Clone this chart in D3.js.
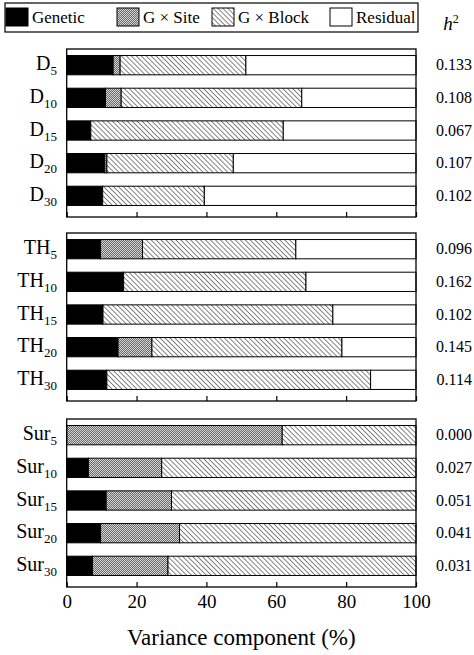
<html>
<head>
<meta charset="utf-8">
<script src="https://d3js.org/d3.v7.min.js"></script>
<style>body{margin:0;background:#fff;} svg text{font-family:"Liberation Serif","DejaVu Serif",serif;}</style>
</head>
<body>
<svg width="474" height="655"></svg>
<script>
var groups = ["D", "TH", "Sur"];
var ages = ["5", "10", "15", "20", "30"];
var keys = ["Genetic", "G \u00d7 Site", "G \u00d7 Block", "Residual"];
// percent for genetic, GxSite, GxBlock (residual = remainder)
var genetic = [13.3, 11.1, 6.9, 10.9, 10.3, 9.7, 16.3, 10.4, 14.7, 11.5, 0, 6.2, 11.3, 9.7, 7.4];
var gSite   = [2.0, 4.5, 0, 0.6, 0, 12.0, 0, 0, 9.7, 0, 61.7, 21.0, 18.7, 22.6, 21.6];
var gBlock  = [36.0, 51.7, 55.1, 36.2, 29.1, 43.9, 52.2, 65.8, 54.4, 75.5, 38.3, 72.8, 70.0, 67.7, 71.0];
var h2 = ["0.133", "0.108", "0.067", "0.107", "0.102", "0.096", "0.162", "0.102", "0.145", "0.114", "0.000", "0.027", "0.051", "0.041", "0.031"];
var xTicks = [0, 20, 40, 60, 80, 100];

var svg = d3.select("svg");
var x = d3.scaleLinear().domain([0, 100]).range([66.7, 416]);

var defs = svg.append("defs");
var dots = defs.append("pattern").attr("id", "site").attr("patternUnits", "userSpaceOnUse")
  .attr("width", 2).attr("height", 2);
dots.append("rect").attr("width", 2).attr("height", 2).attr("fill", "#d4d4d4");
dots.append("rect").attr("width", 1).attr("height", 1).attr("fill", "#6a6a6a");
dots.append("rect").attr("x", 1).attr("y", 1).attr("width", 1).attr("height", 1).attr("fill", "#6a6a6a");
var hatch = defs.append("pattern").attr("id", "block").attr("patternUnits", "userSpaceOnUse")
  .attr("width", 3.5).attr("height", 3.5).attr("patternTransform", "rotate(-45)");
hatch.append("rect").attr("width", 3.5).attr("height", 3.5).attr("fill", "#fff");
hatch.append("line").attr("x1", 0).attr("y1", 0).attr("x2", 0).attr("y2", 3.5)
  .attr("stroke", "#222").attr("stroke-width", 1.1);
var fills = ["#000", "url(#site)", "url(#block)", "#fff"];

// legend
svg.append("rect").attr("x", 5).attr("y", 3).attr("width", 413).attr("height", 29)
  .attr("fill", "none").attr("stroke", "#000").attr("stroke-width", 1.2);
var legX = [6, 117, 212, 330];
var leg = svg.selectAll(".leg").data(keys).enter().append("g")
  .attr("transform", (d, i) => `translate(${legX[i]},8)`);
leg.append("rect").attr("width", 22).attr("height", 18).attr("fill", (d, i) => fills[i])
  .attr("stroke", "#000").attr("stroke-width", 1);
leg.append("text").attr("x", 26).attr("y", 15).text(d => d)
  .style("font-size", "17px");
svg.append("text").attr("x", 451).attr("y", 30).attr("text-anchor", "middle")
  .style("font-size", "19px").style("font-style", "italic").text("h").append("tspan")
  .attr("dy", -7).style("font-size", "12px").style("font-style", "normal").text("2");

var panelTop = [49, 233, 419], panelH = 168;
groups.forEach(function(gname, gi) {
  var g = svg.append("g").attr("transform", `translate(0,${panelTop[gi]})`);
  var y = d3.scaleBand().domain(ages).range([0, panelH - 5]).paddingInner(0.41).paddingOuter(0.2);
  ages.forEach(function(a, ai) {
    var k = gi * 5 + ai;
    var vals = [genetic[k], gSite[k], gBlock[k]];
    vals.push(100 - d3.sum(vals));
    var start = 0;
    vals.forEach(function(v, vi) {
      if (v > 0) {
        g.append("rect").attr("x", x(start)).attr("y", y(a)).attr("width", x(start + v) - x(start))
          .attr("height", y.bandwidth()).attr("fill", fills[vi])
          .attr("stroke", "#000").attr("stroke-width", 1);
      }
      start += v;
    });
    var t = g.append("text").attr("x", 57).attr("y", y(a) + y.bandwidth() / 2 + 5)
      .attr("text-anchor", "end").style("font-size", "20px").text(gname);
    t.append("tspan").attr("dy", 5).style("font-size", "13px").text(a);
    g.append("text").attr("x", 472).attr("y", y(a) + y.bandwidth() / 2 + 5)
      .attr("text-anchor", "end").style("font-size", "16px").text(h2[k]);
  });
  g.append("rect").attr("x", x(0)).attr("y", 0).attr("width", x(100) - x(0)).attr("height", panelH)
    .attr("fill", "none").attr("stroke", "#000").attr("stroke-width", 1.3);
  var ax = g.append("g").attr("transform", `translate(0,${panelH})`)
    .call(d3.axisTop(x).tickValues(xTicks).tickSize(5).tickFormat(""));
  ax.select(".domain").remove();
  ax.selectAll("line").attr("stroke", "#000").attr("stroke-width", 1.2);
  if (gi === 2) {
    var bx = g.append("g").attr("transform", `translate(0,${panelH})`)
      .call(d3.axisBottom(x).tickValues(xTicks).tickSize(0).tickPadding(8));
    bx.select(".domain").remove();
    bx.selectAll("text").attr("font-family", null).style("font-size", "19px").attr("fill", "#000");
  }
});

svg.append("text").attr("x", x(50)).attr("y", 645).attr("text-anchor", "middle")
  .style("font-size", "23px").text("Variance component (%)");
</script>
</body>
</html>
